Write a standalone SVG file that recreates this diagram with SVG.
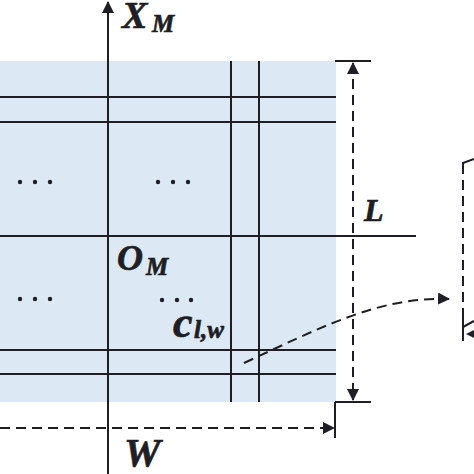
<svg xmlns="http://www.w3.org/2000/svg" width="474" height="474" viewBox="0 0 474 474">
<defs>
<style>
.ln{stroke:#1e1e24;stroke-width:2;fill:none}
.dash{stroke:#1e1e24;stroke-width:2;fill:none;stroke-dasharray:10,6}
.big{font-family:"Liberation Serif","Times New Roman",serif;font-style:italic;font-weight:bold;fill:#1e1e24;stroke:#1e1e24;stroke-width:0.7}
.dot{fill:#1e1e24}
</style>
<marker id="ah" viewBox="0 0 12 12" refX="11" refY="6" markerWidth="12" markerHeight="12" markerUnits="userSpaceOnUse" orient="auto">
<path d="M0,0 L12,6 L0,12 Z" fill="#1e1e24"/>
</marker>
<marker id="ahs" viewBox="0 0 12 12" refX="11" refY="6" markerWidth="12" markerHeight="12" markerUnits="userSpaceOnUse" orient="auto-start-reverse">
<path d="M0,0 L12,6 L0,12 Z" fill="#1e1e24"/>
</marker>
</defs>
<rect width="474" height="474" fill="#ffffff"/>
<g id="grid">
<rect x="0" y="61" width="336" height="341" fill="#dce9f5"/>
<line class="ln" x1="0" y1="97" x2="336" y2="97"/>
<line class="ln" x1="0" y1="122" x2="336" y2="122"/>
<line class="ln" x1="0" y1="350" x2="336" y2="350"/>
<line class="ln" x1="0" y1="374" x2="336" y2="374"/>
<line class="ln" x1="231" y1="61" x2="231" y2="402"/>
<line class="ln" x1="259" y1="61" x2="259" y2="402"/>
</g>
<g id="axes">
<line class="ln" x1="0" y1="236" x2="416" y2="236"/>
<line class="ln" x1="108" y1="474" x2="108" y2="2" marker-end="url(#ah)"/>
<text class="big" x="122" y="28" font-size="38">X</text>
<text class="big" x="152" y="32" font-size="25">M</text>
<text class="big" x="117" y="270" font-size="36">O</text>
<text class="big" x="146" y="275" font-size="25">M</text>
</g>
<g id="dots">
<circle class="dot" cx="20" cy="182" r="2.2"/><circle class="dot" cx="35" cy="182" r="2.2"/><circle class="dot" cx="50" cy="182" r="2.2"/>
<circle class="dot" cx="158" cy="182" r="2.2"/><circle class="dot" cx="173" cy="182" r="2.2"/><circle class="dot" cx="188" cy="182" r="2.2"/>
<circle class="dot" cx="20" cy="299" r="2.2"/><circle class="dot" cx="35" cy="299" r="2.2"/><circle class="dot" cx="50" cy="299" r="2.2"/>
<circle class="dot" cx="162" cy="300" r="2.2"/><circle class="dot" cx="177" cy="300" r="2.2"/><circle class="dot" cx="191" cy="300" r="2.2"/>
</g>
<g id="cell">
<text class="big" x="173" y="337" font-size="44">c</text>
<text class="big" x="194" y="338" font-size="25">l,w</text>
</g>
<g id="dimensions">
<line class="ln" x1="335" y1="61" x2="371" y2="61"/>
<line class="ln" x1="335" y1="402" x2="371" y2="402"/>
<line class="ln" x1="335" y1="402" x2="335" y2="438"/>
<line class="dash" x1="353" y1="63" x2="353" y2="400" marker-start="url(#ahs)" marker-end="url(#ah)"/>
<line class="dash" x1="0" y1="428" x2="334" y2="428" marker-end="url(#ah)"/>
<text class="big" x="364" y="221" font-size="32">L</text>
<text class="big" x="124" y="466" font-size="41">W</text>
</g>
<g id="connectors">
<path class="dash" d="M244,363 C320,328 380,296 449,299" marker-end="url(#ah)"/>
</g>
<g id="right-box">
<line class="dash" x1="463" y1="164" x2="463" y2="320"/>
<polyline class="ln" points="463,164 463,163 474,159"/>
<line class="ln" x1="463" y1="318" x2="463" y2="341"/>
<line class="ln" x1="463" y1="327" x2="474" y2="321"/>
<path d="M466,334 L476,329 L476,339 Z" fill="#1e1e24"/>
</g>
</svg>
